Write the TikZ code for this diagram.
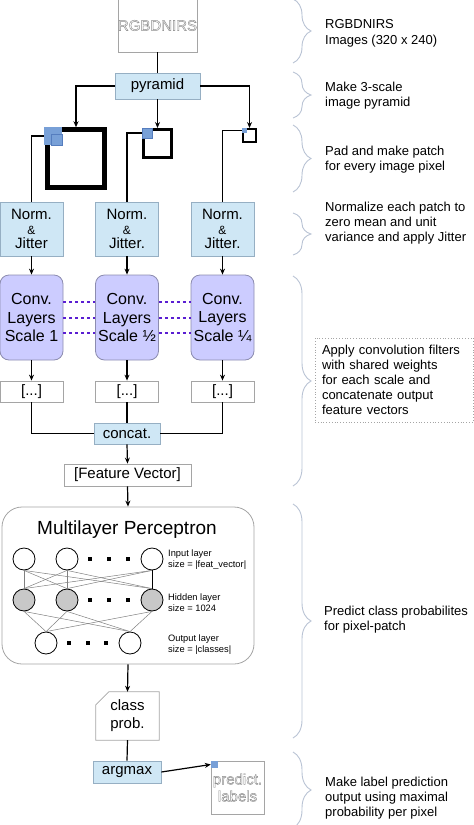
\documentclass[tikz,border=0pt]{standalone}
\usepackage{fontspec}
\setmainfont{Liberation Sans}
\usetikzlibrary{arrows.meta,decorations.pathreplacing,calc}
\definecolor{bfill}{RGB}{207,231,245}
\definecolor{bdraw}{RGB}{150,175,195}
\definecolor{gdraw}{RGB}{165,165,165}
\definecolor{lfill}{RGB}{204,204,255}
\definecolor{ldraw}{RGB}{140,140,175}
\definecolor{dpurp}{RGB}{90,30,210}
\definecolor{pblue}{RGB}{120,160,215}
\definecolor{pblue2}{RGB}{85,125,190}
\definecolor{brc}{RGB}{185,195,212}
\definecolor{hgray}{RGB}{200,200,200}
\newcommand{\hollow}[1]{\special{pdf:literal direct q 1 Tr 0.45 w 0.55 0.55 0.55 RG}#1\special{pdf:literal direct Q}}
\begin{document}
\begin{tikzpicture}[x=1pt,y=-1pt,
  font=\fontsize{15}{18}\selectfont,
  box/.style={draw=gdraw, fill=white, line width=0.8pt, inner sep=0pt, align=center},
  bbox/.style={box, draw=bdraw, fill=bfill},
  conv/.style={draw=ldraw, fill=lfill, rounded corners=9pt, line width=0.8pt, minimum width=63pt, minimum height=85pt, inner sep=0pt, align=center, font=\fontsize{16}{18.5}\selectfont},
  normbox/.style={bbox, minimum width=63pt, minimum height=54pt, font=\fontsize{15}{14.5}\selectfont},
  dotbox/.style={box, minimum width=63pt, minimum height=21pt},
  arr/.style={line width=1.2pt, -{Stealth[length=6pt,width=5pt]}},
  ln/.style={line width=1.2pt},
  purpdash/.style={dpurp, line width=1.2pt, dash pattern=on 3pt off 3pt},
  neuron/.style={circle, draw, line width=0.8pt, fill=white, minimum size=22pt, inner sep=0pt},
  hneuron/.style={neuron, fill=hgray},
  dotn/.style={fill, minimum size=3.2pt, inner sep=0pt},
  wire/.style={gray, line width=0.5pt},
  lbl/.style={anchor=west, align=left, inner sep=0pt, font=\fontsize{9.3}{11}\selectfont},
  rtxt/.style={anchor=west, align=left, inner sep=0pt, font=\fontsize{13}{15}\selectfont},
  bracestyle/.style={brc, line width=0.9pt, decorate, decoration={brace, amplitude=18pt}},
  patch/.style={draw, inner sep=0pt}
]
\useasboundingbox (0,0) rectangle (474,825);

% input image
\node[box, minimum width=53pt, minimum height=53pt] (rgb) at (157.5,25.5) {\hollow{RGBDNIRS}};
\node[bbox, minimum width=85pt, minimum height=26pt] (pyr) at (157.5,86) {pyramid};
\draw[ln] (rgb.south) -- (pyr.north);

% patches
\node[patch, line width=5pt, minimum size=57.5pt] (p1) at (76,158.5) {};
\node[patch, line width=3pt, minimum size=28pt] (p2) at (157.5,143.5) {};
\node[patch, line width=2pt, minimum size=13pt] (p3) at (249.5,135.5) {};
\node[fill=pblue, minimum size=18pt, inner sep=0pt] (q1) at (53,136) {};
\node[fill=pblue, draw=pblue2, line width=0.6pt, minimum size=11pt, inner sep=0pt] (q1b) at (56.5,139.5) {};
\node[fill=pblue, draw=pblue2, line width=0.4pt, minimum size=10pt, inner sep=0pt] (q2) at (147,133) {};
\node[fill=pblue, minimum size=5pt, inner sep=0pt] (q3) at (244.5,130.5) {};
\draw[arr] (pyr.west) -| (p1.north);
\draw[arr] (pyr.south) -- (p2.north);
\draw[arr] (pyr.east) -| (p3.north);

% norm & jitter
\node[normbox] (n1) at (31.5,229) {Norm.\\{\fontsize{12}{12}\selectfont\&}\\Jitter};
\node[normbox] (n2) at (127,229) {Norm.\\{\fontsize{12}{12}\selectfont\&}\\Jitter.};
\node[normbox] (n3) at (222.5,229) {Norm.\\{\fontsize{12}{12}\selectfont\&}\\Jitter.};
\draw[ln] (q1.west) -| (n1.north);
\draw[ln] (q2.west) -| (n2.north);
\draw[ln] (q3.west) -| (n3.north);

% conv layers
\node[conv] (c1) at (31.5,317.5) {Conv.\\Layers\\Scale 1};
\node[conv] (c2) at (127,317.5) {Conv.\\Layers\\Scale ½};
\node[conv] (c3) at (222.5,317.5) {Conv.\\Layers\\Scale ¼};
\draw[arr] (n1.south) -- (c1.north);
\draw[arr] (n2.south) -- (c2.north);
\draw[arr] (n3.south) -- (c3.north);
\foreach \s in {15.5,-0.5,-15.5}{
  \draw[purpdash] ([yshift=\s pt]c1.east) -- ([yshift=\s pt]c2.west);
  \draw[purpdash] ([yshift=\s pt]c2.east) -- ([yshift=\s pt]c3.west);
}

% outputs
\node[dotbox] (d1) at (31.5,391.5) {[...]};
\node[dotbox] (d2) at (127,391.5) {[...]};
\node[dotbox] (d3) at (222.5,391.5) {[...]};
\draw[arr] (c1.south) -- (d1.north);
\draw[arr] (c2.south) -- (d2.north);
\draw[arr] (c3.south) -- (d3.north);
\node[bbox, minimum width=66pt, minimum height=21pt] (cc) at (127,433.5) {concat.};
\draw[ln] (d1.south) |- (cc.west);
\draw[ln] (d3.south) |- (cc.east);
\draw[ln] (d2.south) -- (cc.north);
\node[box, minimum width=127pt, minimum height=22pt] (fv) at (127.5,475) {[Feature Vector]};
\draw[arr] (cc.south) -- (fv.north);

% MLP
\node[draw=gdraw, fill=white, rounded corners=20pt, line width=0.8pt, minimum width=252pt, minimum height=157pt, inner sep=0pt] (mlp) at (128,585.5) {};
\draw[arr] (fv.south) -- (mlp.north);
\node[font=\fontsize{19}{22}\selectfont, inner sep=0pt] (title) at (127,530) {Multilayer Perceptron};
\node[neuron] (i1) at (24,559) {};
\node[neuron] (i2) at (67,559) {};
\node[neuron] (i3) at (152,559) {};
\node[hneuron] (h1) at (24,600) {};
\node[hneuron] (h2) at (67,600) {};
\node[hneuron] (h3) at (152,600) {};
\node[neuron] (o1) at (46,643) {};
\node[neuron] (o2) at (130,643) {};
\foreach \a in {1,2,3}{
  \foreach \b in {1,2,3}{
    \draw[wire] (i\a.south) -- (h\b.north);
  }
  \foreach \b in {1,2}{
    \draw[wire] (h\a.south) -- (o\b.north);
  }
}
\draw[line width=0.8pt] (i3.south) -- (h3.north);
\foreach \x [count=\k] in {90,109,128}{
  \node[dotn] (di\k) at (\x,559) {};
  \node[dotn] (dh\k) at (\x,600) {};
}
\foreach \x [count=\k] in {69,88,106}{
  \node[dotn] (do\k) at (\x,643) {};
}
\node[lbl] (li) at (168,559.5) {Input layer\\size = |feat\_vector|};
\node[lbl] (lh) at (168,602.5) {Hidden layer\\size = 1024};
\node[lbl] (lo) at (168,644.5) {Output layer\\size = |classes|};

% class prob
\node[minimum width=63pt, minimum height=48pt, inner sep=0pt, align=center] (cp) at (127.5,716) {class\\prob.};
\draw[gdraw, line width=0.8pt] ([xshift=13pt]cp.north west) -- (cp.north east) -- (cp.south east) -- (cp.south west) -- ([yshift=-13pt]cp.north west) -- cycle;
\draw[arr] (mlp.south) -- (cp.north);
\node[bbox, minimum width=68pt, minimum height=22pt] (am) at (127,772) {argmax};
\draw[ln] (cp.south) -- (am.north);
\node[box, minimum width=53pt, minimum height=53pt, font=\fontsize{15}{17}\selectfont] (pl) at (237.5,787.5) {\hollow{predict.}\\\hollow{labels}};
\node[fill=pblue, minimum size=7pt, inner sep=0pt] (qp) at (214.5,764.5) {};
\draw[arr] (am.east) -- (qp.west);

% braces
\draw[bracestyle] (293,-1) -- (293,63);
\draw[bracestyle] (293,72) -- (293,118);
\draw[bracestyle] (293,125) -- (293,192);
\draw[bracestyle] (293,213) -- (293,255);
\draw[bracestyle] (293,276) -- (293,486);
\draw[bracestyle] (293,504) -- (293,738);
\draw[bracestyle] (293,752) -- (293,828);

% descriptions
\node[rtxt, font=\fontsize{13}{16.5}\selectfont] (t1) at (325,33.5) {RGBDNIRS\\Images (320 x 240)};
\node[rtxt] (t2) at (325,95.5) {Make 3-scale\\image pyramid};
\node[rtxt] (t3) at (325,159.5) {Pad and make patch\\for every image pixel};
\node[rtxt] (t4) at (325,223) {Normalize each patch to\\zero mean and unit\\variance and apply Jitter};
\node[draw=gdraw, dotted, line width=0.8pt, text width=144pt, inner xsep=7pt, inner ysep=0pt, minimum height=84pt, align=left, font=\fontsize{13}{15}\selectfont] (t5) at (394,380) {Apply convolution filters\\with shared weights\\for each scale and\\concatenate output\\feature vectors};
\node[rtxt] (t6) at (324,620) {Predict class probabilites\\for pixel-patch};
\node[rtxt] (t7) at (325,798) {Make label prediction\\output using maximal\\probability per pixel};
\end{tikzpicture}
\end{document}
